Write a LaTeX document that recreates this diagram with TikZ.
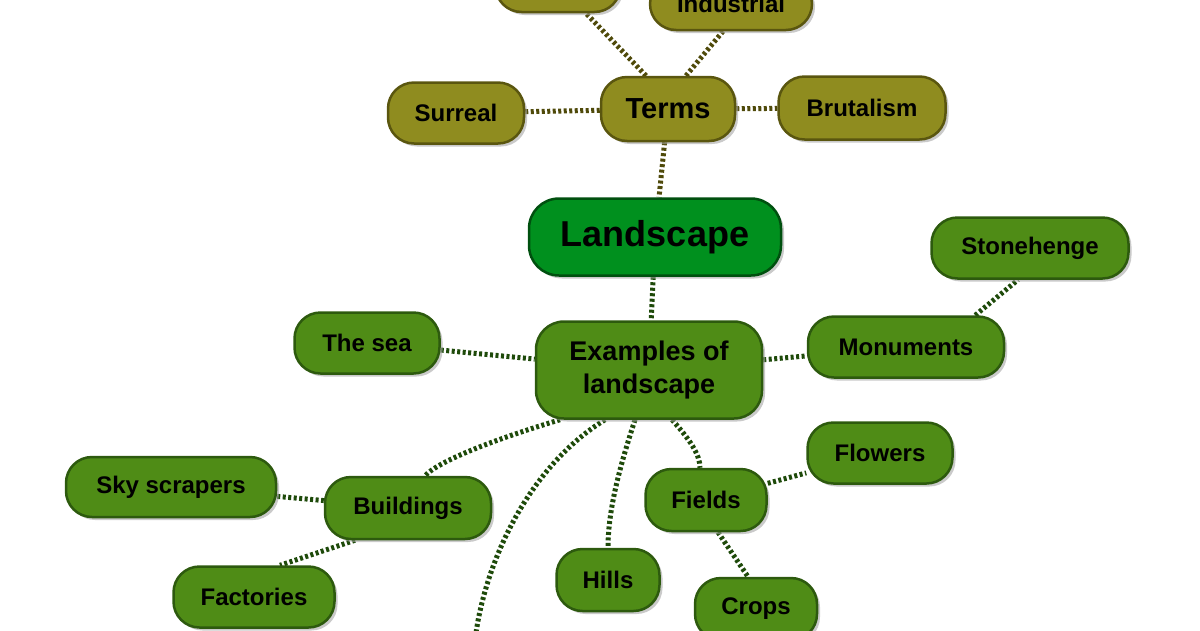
\documentclass[tikz,border=0pt]{standalone}
\usepackage{fontspec}
\setmainfont{Liberation Sans}
\usetikzlibrary{shadows}
\pgfdeclarelayer{bg}
\pgfsetlayers{bg,main}
\definecolor{olfill}{HTML}{8F8C1F}
\definecolor{oldraw}{HTML}{5A560F}
\definecolor{grfill}{HTML}{4F8C16}
\definecolor{grdraw}{HTML}{2D5A0E}
\definecolor{lsfill}{HTML}{00901E}
\definecolor{lsdraw}{HTML}{00500F}
\definecolor{olline}{HTML}{4F4A0A}
\definecolor{grline}{HTML}{1E4A0A}
\tikzset{
 x=1pt,y=-1pt,
 bub/.style={rounded corners=26pt,line width=2.5pt,font=\bfseries\fontsize{24}{27}\selectfont,align=center,inner sep=0pt,
   drop shadow={shadow xshift=3pt,shadow yshift=-3pt,fill=black!35,opacity=0.6}},
 ol/.style={bub,fill=olfill,draw=oldraw},
 gr/.style={bub,fill=grfill,draw=grdraw},
 oline/.style={draw=olline,line width=5pt,dash pattern=on 3pt off 2.5pt},
 gline/.style={draw=grline,line width=5pt,dash pattern=on 3pt off 2.5pt},
}
\begin{document}
\begin{tikzpicture}
\useasboundingbox (0,0) rectangle (1200,630);
\node[ol,minimum width=125,minimum height=44] (topl) at (558,-10) {};
\node[ol,minimum width=162,minimum height=52] (industrial) at (731,4) {Industrial};
\node[ol,minimum width=134,minimum height=64,font=\bfseries\fontsize{29}{30}\selectfont] (terms) at (668,109) {Terms};
\node[ol,minimum width=136,minimum height=61] (surreal) at (456,113) {Surreal};
\node[ol,minimum width=167,minimum height=63] (brut) at (862,108) {Brutalism};
\node[bub,fill=lsfill,draw=lsdraw,minimum width=252,minimum height=77,rounded corners=30pt,font=\bfseries\fontsize{36}{38}\selectfont] (land) at (655,237) {Landscape};
\node[gr,minimum width=226,minimum height=97,font=\bfseries\fontsize{27}{33}\selectfont,rounded corners=28pt] (ex) at (649,370) {Examples of\\landscape};
\node[gr,minimum width=145,minimum height=61] (sea) at (367,343) {The sea};
\node[gr,minimum width=196,minimum height=61] (mon) at (906,347) {Monuments};
\node[gr,minimum width=197,minimum height=61] (stone) at (1030,248) {Stonehenge};
\node[gr,minimum width=210,minimum height=60] (sky) at (171,487) {Sky scrapers};
\node[gr,minimum width=166,minimum height=62] (build) at (408,508) {Buildings};
\node[gr,minimum width=161,minimum height=61] (fact) at (254,597) {Factories};
\node[gr,minimum width=103,minimum height=62] (hills) at (608,580) {Hills};
\node[gr,minimum width=121,minimum height=62] (fields) at (706,500) {Fields};
\node[gr,minimum width=145,minimum height=61] (flow) at (880,453) {Flowers};
\node[gr,minimum width=122,minimum height=62] (crops) at (756,609) {Crops};
\coordinate (cend) at (475,640);
\begin{pgfonlayer}{bg}
\draw[oline] ([xshift=-22pt]terms.north) -- ([xshift=28pt]topl.south);
\draw[oline] ([xshift=18pt]terms.north) -- ([xshift=-8pt]industrial.south);
\draw[oline] (surreal) -- (terms);
\draw[oline] (terms) -- (land);
\draw[oline] (terms) -- (brut);
\draw[gline] (land) -- (ex);
\draw[gline] (sea) -- (ex);
\draw[gline] (ex) -- (mon);
\draw[gline] ([xshift=-30pt]mon.north east) -- ([xshift=-12pt]stone.south);
\draw[gline] ([xshift=-89pt]ex.south) .. controls +(-60,18) and +(15,-16) .. ([xshift=17pt]build.north);
\draw[gline] ([xshift=-44pt]ex.south) .. controls +(-75,46) and +(10,-80) .. (cend);
\draw[gline] ([xshift=-14pt]ex.south) .. controls +(-15,46) and +(0,-38) .. (hills.north);
\draw[gline] ([xshift=23pt]ex.south) .. controls +(18,20) and +(0,-13) .. ([xshift=-6pt]fields.north);
\draw[gline] (sky) -- (build);
\draw[gline] ([xshift=-53pt]build.south) -- ([xshift=26pt]fact.north);
\draw[gline] (fields) -- (flow);
\draw[gline] ([xshift=12pt]fields.south) -- ([xshift=-8pt]crops.north);
\end{pgfonlayer}
\end{tikzpicture}
\end{document}
